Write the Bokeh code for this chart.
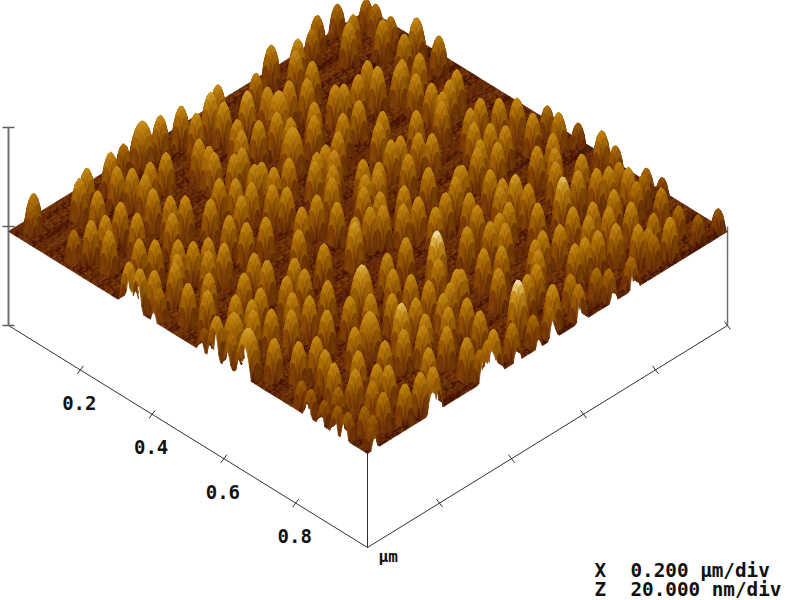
import numpy as np
from bokeh.plotting import figure
from bokeh.models import ColumnDataSource, Range1d
from bokeh.core.properties import value
from bokeh.embed import file_html
from bokeh.resources import INLINE

# --- peaks: lateral position (µm x 100) and height above ground (nm)
peak_x = [2.8,3.5,5.6,6.9,3,3.9,4.7,5.3,8.4,9.4,
 11.9,13,13,15.1,12.2,17.9,19.4,23.4,25.5,27.6,
 22.7,18.8,17.9,15.5,22.7,28.8,31.2,34.4,36.9,38.1,
 41.5,29.7,26.3,28.6,33.3,36,40,31.7,22.9,22.6,
 28,14.6,17.6,19.7,15.5,18.6,6.8,5,10.1,11.6,
 32.6,35.6,38,37.5,39.3,41.1,46.2,51.1,48,45.6,
 40.5,49.9,56.7,54.8,58.2,60.7,57,60.9,66.1,53.6,
 3.6,6.5,1.2,1.4,3.7,6.9,9.2,12.8,11.4,17.5,
 23.6,19,5.8,8.2,3,6.6,12.8,16,14,12.4,
 21.3,22.3,22.2,20.3,23.5,25.6,24.9,25.9,30,34.3,
 34.8,36.1,37.8,39.8,28.1,22.3,25.3,19.4,18.7,22.5,
 28.8,33.9,35.9,38.4,43.7,45.8,41.9,41.5,32.3,33.5,
 35.9,34,35.7,39.1,31.4,28.5,31.4,42,44.8,45.7,
 46.4,47.1,52.9,58.8,56.9,41.8,37.6,35.1,43.6,48.3,
 51.7,53.6,61,44.2,48,53.7,55.1,57.7,58.1,62.8,
 41.5,48.9,53.9,56.2,55.6,65.6,66.5,71.8,51.4,54.7,
 74.9,70.9,57.7,58.6,64.4,74.6,78.5,81.9,80.3,62.2,
 65.3,71.1,73.3,76.3,80.6,83.4,82,87.1,63,70.9,
 85.5,66,78.7,87.7,91.3,86,70,75.5,74.1,79.7,
 85.9,84.5,93.6,83.8,90.1,91.9,88.2,98.5,98,87.9,
 92.2,80,83.2,87.2,96.2,98,99,90.7,87,95.2,
 93.6,97.7,99,96.6,98.5,98.5,99,99,87.7,
 45.4,44.5,47.1,49.6,49.1,51.6,54.2,55.2,53.3,58.2,
 59.7,68.3,62.6,71.8,53.9,56.8,66.1,63.2,71.2,69.4,
 55.3,57.1,62,77.1,77.8,80.7,74.4,76.5,80.7,82.1,
 82.8,83.9,67.7,76,70.5,65.7,67.3,83.7,88.8,64.3,
 83.6,88.9,94.1,97.7,98.5,76.1,71.9,68.2,81.9,86.9,
 93.4,97.7,86,73.1,73.7,84,91.6,94.9,96.1,71.6,
 76.2,90.7,83,90.5,90.5,84.1,97.4,78.9,80.8,86.8,
 89.8,99,80.4,85.4,98.6,96.7,95.6,90.8,92.4,97,
 99,94.1,98.9,98.5]
peak_y = [4.2,2.9,16.2,12.9,29,38.3,43.3,23.1,43.8,20.8,
 22.5,26.4,30.8,22.9,12.6,13.3,20.8,21.6,23.7,18,
 13.1,8.2,5.1,2.7,5.3,7.6,9.6,12.8,14.5,17.5,
 18.5,26.5,32.3,34.6,31.5,25.4,26.2,35.9,39.9,42.4,
 40.4,38.4,38.2,37.5,48.1,46.2,49.4,53.2,49.7,54.8,
 1,1,2.6,9.5,7.1,14.5,9.6,14.5,20.4,4.4,
 1.5,5.5,13.5,8.4,9.6,7.5,1,1.3,1,1,
 95.8,95.5,90.2,84.4,80.7,88.9,85.4,91.2,94.8,95.9,
 96,91,74.6,71.6,70,62.2,71.6,67,64,59.6,
 69.5,70.9,75,79.5,79.1,83,84.5,88.3,83.2,83.3,
 89.8,86.5,82.8,80.6,69.3,62.7,59.7,55.2,50.9,55.9,
 64.2,70.1,67.1,75,70.3,72,67.1,64.9,59.3,54.7,
 54.7,51.8,49.5,51.1,46.6,41.9,42.4,56.6,58.2,53.5,
 56.4,64.1,63.9,65.6,68.3,48.2,39.8,38.3,42.2,50.5,
 51.7,56.4,60.6,37.4,43.4,46.9,49.1,52.1,55.9,56,
 30.1,31.9,42.5,40.2,32.2,45,38.9,47.4,20.6,24.9,
 44.7,36.1,19.7,23.8,24.4,37.4,38.5,41.1,44.5,16.8,
 18.5,23.9,27.5,30.5,32.8,37.6,27.4,35.3,10.2,17.7,
 30.5,12.8,17.7,27.7,30.7,24,4,10.3,6.7,8.5,
 18.9,12.9,23.4,6.8,12.5,13.9,8.4,19.7,16.7,7.7,
 9.2,1.6,1,4.6,8.2,12.4,18,1,1,4,
 1,3.7,2,31,36.5,41.7,32.3,34.4,39.9,
 83,86.7,89.3,91.8,80.3,82.4,84,90.6,96.5,94.8,
 98.7,96.7,88.8,97,77.3,79.2,85.9,83.8,88.2,82.8,
 75.1,69.1,72,92.7,89.2,91.7,84,87.1,96.7,94.5,
 99,90.7,73.3,78.2,74.1,71.7,69.5,84.7,92.8,63.9,
 79,84.3,92.3,94.1,98.9,71.1,67.3,62.2,75.1,80.1,
 86,86.3,75.4,63.5,60.3,69.4,77.4,80.3,81.9,56,
 62,73.3,65.6,69.9,67.1,62.5,82.2,53.3,56.4,60.6,
 57.2,74.2,45.6,51,68.4,66.9,60.8,53.6,38.8,54.4,
 59.6,47.7,51.7,47.5]
peak_h = [7,5,8,8,6,8,8,8,8,8,
 8,8,8,8,8,8,8,8,8,8,
 8,8,8,6,8,8,8,8,8,8,
 8,8,8,8,8,8,8,8,8,8,
 8,8,8,8,8,8,9,8,8.4,9,
 8,8,8,8,8,8,8,8,8,8,
 6,8,8,8,8,8,8,6,5.6,4,
 5.6,6,6,6.4,6.4,7,8,7.6,6,8,
 7,7.6,8,8,7.6,7,8,8,8,8,
 8,8,8,8,8.4,8,8,8,8,8,
 8,8,8,8,8,8,8,8,8,8,
 8,8,8,8,8,8,8,8,8,8,
 8,8,8,8,8,8,8,8,8,8,
 8,8,8,8,8,8,8,8,8,8,
 8,8,8,8,8,8,8,8,8,8,
 8,8,8,9,8,8,8,11,8,8,
 8,8,8,8,8,8,8,8,8.4,8,
 8,8,8,8,8,8,10,8,8,8,
 8,8,8,8,8,8,8,8,8,8,
 8,8,8,8,8,8,8,8,8,6,
 7,5,5,5.6,7,7.6,6,5,4.4,5.6,
 5,5,4,8,8,7,6,7,8,
 8,8,8,8,8,8,8,8,6,7.6,
 4.4,7.6,8,6,8,8,8,8,8,8,
 8,8,8,7,8,8,8,8,5.6,6,
 3.6,7,9,10,8,8,8,8,7,8,
 8,8,6,5,4.4,8,8,8,8,8,
 7,8,8,8,8,8,8,8,7,8,
 8,8,8,8,8,8,6,8,8,8,
 8,6,8,8,6,6,7,8,8,8.4,
 7,11,6,6]

broad_x = [3.2,15.4,25.5,67.5,65.3,58.7,77.8]
broad_y = [34,59.8,53.5,30.9,1.5,4.1,22.8]
broad_h = [8.4,8.4,8.4,9.6,9,8,8.4]

# tone of the ground between the peaks, by scan line (nm), estimated from the bands in the picture
scan_tone = [0.4,-0.3,0.5,0.1,-0.6,0.3,0.6,-0.4,0.2,-0.7,0.4,0.5,-0.2,-0.6,0.3,0.1,0.6,-0.5,0.2,0.4,-0.6,-0.2,0.5,0.3,-0.4,0.6,0.1,-0.7,0.3,0.4]
# small tile of the speckle seen on the ground
speckle_tile = [[0.0,1.6,-0.5,0.4,-0.8,2.2,0.1,-0.4,1.0,-0.9,0.3],
                [1.2,-0.7,0.3,-0.2,1.8,-0.5,-0.9,0.6,-0.3,1.4,-0.6],
                [-0.6,0.5,2.0,-0.8,0.2,0.7,-0.4,1.7,-0.7,0.1,0.9],
                [0.8,-0.3,-0.9,1.1,-0.5,-0.2,1.5,-0.6,0.4,2.1,-0.8],
                [-0.4,1.9,0.2,-0.6,0.9,-0.7,0.3,-0.1,1.3,-0.5,0.6],
                [0.3,-0.8,1.3,0.6,-0.4,1.6,-0.6,0.8,-0.9,0.2,1.1],
                [-0.7,0.7,-0.2,1.7,0.1,-0.9,1.0,-0.5,0.5,-0.3,1.9]]

tick_labels = ["0.2","0.4","0.6","0.8"]
tick_values = [0.2,0.4,0.6,0.8]
y_tick_values = [0.2,0.4,0.6,0.8,1.0]
z_tick_values = [0,20,40]
scale_names = ["X","Z"]
scale_values = ["0.200 µm/div","20.000 nm/div"]
GROUND = 19.0

assert len(peak_x)==len(peak_y)==len(peak_h), (len(peak_x),len(peak_y),len(peak_h))

def sx(x,y):
    return 8.0 + 359.0*np.asarray(x) + 360.0*np.asarray(y)
def sy(x,y,z=0.0):
    return 325.0 + 222.0*np.asarray(x) - 222.0*np.asarray(y) - 4.95*np.asarray(z)

N = 210
gx = np.linspace(0,1,N+1)
gy = np.linspace(0,1,N+1)
X,Y = np.meshgrid(gx,gy,indexing="ij")
Z = np.zeros_like(X)
def bump(px,py,h,R):
    global Z
    t = 1-((X-px)**2+(Y-py)**2)/(R*R)
    Z = np.maximum(Z, h*np.clip(t,0,None)**0.75)
for a,b,h in zip(peak_x,peak_y,peak_h):
    bump(a/100,b/100,h,0.0195*np.sqrt(h/8))
for a,b,h in zip(broad_x,broad_y,broad_h):
    bump(a/100,b/100,h,0.0265)

H = Z+GROUND
PX = sx(X,Y); PY = sy(X,Y,H)
dzx,dzy = np.gradient(Z,gx,gy)
slope = np.hypot(dzx,dzy)

stops_v = [-1.0,0,2,4,6,8,9,10,12]
stops_r = [66,94,125,150,176,198,212,232,250]
stops_g = [16,36,62,88,112,142,165,205,240]
stops_b = [0,4,4,4,8,28,55,130,210]

tile = np.array(speckle_tile)
cx=[];cy=[];cc=[]
horizon = np.full(900,1e9)
for i in range(N-1,-1,-1):
    for j in range(0,N):
        qx=[PX[i,j],PX[i+1,j],PX[i+1,j+1],PX[i,j+1]]
        qy=[PY[i,j],PY[i+1,j],PY[i+1,j+1],PY[i,j+1]]
        x0=int(np.floor(min(qx)));x1=int(np.ceil(max(qx)))+1
        ymin=min(qy);ymax=max(qy)
        seg=horizon[x0:x1]
        if not (ymin-1.5<seg).any():
            continue
        horizon[x0+1:x1-1]=np.minimum(horizon[x0+1:x1-1],ymax)
        v=(Z[i,j]+Z[i+1,j]+Z[i+1,j+1]+Z[i,j+1])/4
        low=max(0.0,1-v/1.5)
        v=v+low*(scan_tone[(i//3)%len(scan_tone)]+0.8*tile[(i+3*j)%7,(j+5*i)%11])
        f=1+0.07*float(np.clip((dzx[i,j]+dzy[i,j])/500.0,-1,1))-0.06*min(1.0,slope[i,j]/600.0)
        r=min(255,np.interp(v,stops_v,stops_r)*f)
        g=min(255,np.interp(v,stops_v,stops_g)*f)
        b=min(255,np.interp(v,stops_v,stops_b)*f)
        cx.append([round(float(q),1) for q in qx]);cy.append([round(float(q),1) for q in qy])
        cc.append("#%02x%02x%02x"%(int(r),int(g),int(b)))
cx.reverse();cy.reverse();cc.reverse()

p = figure(width=785,height=600,output_backend="svg",toolbar_location=None,
           x_range=Range1d(0,785),y_range=Range1d(600,0),min_border=0)
p.axis.visible=False
p.grid.visible=False
p.outline_line_color=None

# axes
p.line(sx([0,1],[0,0]),sy([0,1],[0,0]),line_color="#303030",line_width=1)
p.line(sx([1,1],[0,1]),sy([1,1],[0,1]),line_color="#303030",line_width=1)
p.line(sx([1,1],[0,0]),[547,447],line_color="#303030",line_width=1)
p.line(sx([1,1],[1,1]),[325,226],line_color="#707070",line_width=1.5)
zz=np.array(z_tick_values,float)
p.line(sx(0*zz,0*zz),sy(0*zz,0*zz,zz),line_color="#707070",line_width=2)
p.segment(sx(0*zz,0*zz)-6,sy(0*zz,0*zz,zz),sx(0*zz,0*zz)+6,sy(0*zz,0*zz,zz),line_color="#606060",line_width=1.5)
tx=np.array(tick_values)
p.segment(sx(tx,0*tx)-3,sy(tx,0*tx)+4,sx(tx,0*tx)+3,sy(tx,0*tx)-4,line_color="#303030",line_width=1)
ty=np.array(y_tick_values)
p.segment(sx(1+0*ty,ty)-3,sy(1+0*ty,ty)-4,sx(1+0*ty,ty)+3,sy(1+0*ty,ty)+4,line_color="#303030",line_width=1)

src=ColumnDataSource(dict(xs=cx,ys=cy,c=cc))
p.patches("xs","ys",source=src,fill_color="c",line_color="c",line_width=0.7)

font=value("DejaVu Sans Mono")
p.text(sx(tx,0*tx)-1,sy(tx,0*tx)+33,text=tick_labels,text_font=font,text_font_style="bold",
       text_font_size="19px",text_align="center",text_baseline="middle",text_color="#111111")
p.text([378],[556],text=["µm"],text_font=font,text_font_style="bold",text_font_size="16px",text_baseline="middle",text_color="#111111")
p.text([594,594],[570,589],text=scale_names,text_font=font,text_font_style="bold",text_font_size="19.3px",text_baseline="middle",text_color="#111111")
p.text([630,630],[570,589],text=scale_values,text_font=font,text_font_style="bold",text_font_size="19.3px",text_baseline="middle",text_color="#111111")

open("out.html","w").write(file_html(p,INLINE))
